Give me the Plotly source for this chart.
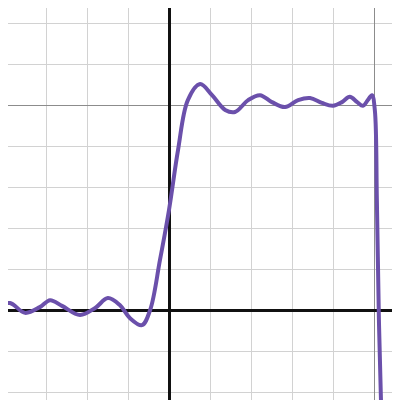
import plotly.graph_objects as go

# points (units: one grid square = 1)
xs = [-4.2, -3.88, -3.51, -3.15, -2.9, -2.61, -2.17, -1.8, -1.49, -1.2, -0.95, -0.66, -0.46,
      -0.22, 0.0, 0.22, 0.46, 0.76, 1.05, 1.37, 1.61, 1.93, 2.22, 2.51, 2.83, 3.15, 3.44,
      3.73, 4.0, 4.22, 4.41, 4.59, 4.73, 4.85, 4.95, 5.02, 5.07, 5.12, 5.17, 5.2]
ys = [0.1, 0.17, -0.07, 0.07, 0.24, 0.1, -0.12, 0.05, 0.29, 0.12, -0.2, -0.37, 0.0,
      1.22, 2.44, 3.9, 5.12, 5.51, 5.24, 4.88, 4.83, 5.12, 5.24, 5.07, 4.95, 5.12, 5.17,
      5.05, 4.98, 5.07, 5.2, 5.07, 4.98, 5.12, 5.24, 4.88, 2.68, -0.24, -2.2, -3.0]

fig = go.Figure(go.Scatter(x=xs, y=ys, mode="lines",
                           line=dict(color="#6b50ab", width=4, shape="spline", smoothing=1.0),
                           hoverinfo="skip"))
ax = dict(dtick=5, gridcolor="#8c8c8c", gridwidth=1, showticklabels=False,
          zeroline=True, zerolinecolor="#111", zerolinewidth=2.5,
          minor=dict(dtick=1, gridcolor="#d2d2d2", gridwidth=1, showgrid=True),
          showline=False, fixedrange=True)
# page body has an 8px margin, so the figure covers pixels 8..400
fig.update_layout(width=392, height=392, margin=dict(l=0, r=0, t=0, b=0),
                  plot_bgcolor="white", paper_bgcolor="white", showlegend=False,
                  xaxis=dict(ax, range=[-161/41, 231/41]),
                  yaxis=dict(ax, range=[-90/41, 302/41]))
fig.write_html("out.html")
